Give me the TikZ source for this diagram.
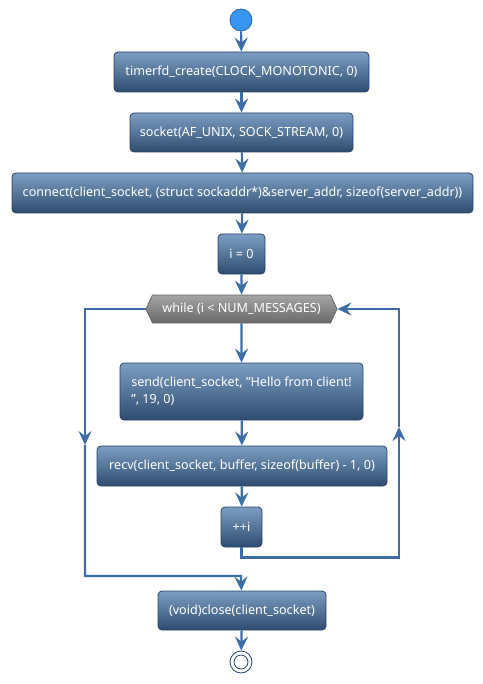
\documentclass[tikz,border=0pt]{standalone}
\usepackage{fontspec}
\setmainfont{Noto Sans}[Ligatures=NoCommon]
\usepackage{tikz}
\usetikzlibrary{arrows.meta,shapes.symbols}

\definecolor{flowblue}{RGB}{61,110,165}
\definecolor{boxtop}{RGB}{124,158,194}
\definecolor{boxbot}{RGB}{46,76,112}
\definecolor{boxedge}{RGB}{40,68,102}
\definecolor{condtop}{RGB}{165,165,165}
\definecolor{condbot}{RGB}{105,105,105}
\definecolor{startfill}{RGB}{56,150,240}

\begin{document}
\begin{tikzpicture}[x=1pt,y=-1pt,
  actbox/.style={draw=boxedge,line width=0.8pt,rounded corners=4pt,
    top color=boxtop,bottom color=boxbot,text=white,
    font=\fontsize{12.6}{17}\selectfont,inner sep=0pt},
  loopcond/.style={draw=black!60,line width=0.8pt,signal,signal to=east and west,
    signal pointer angle=130,top color=condtop,bottom color=condbot,text=white,
    font=\fontsize{12.6}{17}\selectfont,inner sep=0pt,
    minimum width=191pt,minimum height=28pt},
  flow/.style={draw=flowblue,line width=2.2pt,-{Stealth[length=14pt,width=13pt,inset=5pt]}}]
  \useasboundingbox (0,0) rectangle (482,684);
  \node[circle,fill=startfill,draw=startfill!70!black,line width=0.8pt,minimum size=22pt,inner sep=0pt] (start) at (241,20) {};
  \node[actbox,minimum width=255pt,minimum height=40pt] (tfd) at (241.5,72) {timerfd\_create(CLOCK\_MONOTONIC, 0)};
  \node[actbox,minimum width=223pt,minimum height=39pt] (sock) at (241.5,132.5) {socket(AF\_UNIX, SOCK\_STREAM, 0)};
  \node[actbox,minimum width=461pt,minimum height=40pt] (conn) at (242.5,193) {connect(client\_socket, (struct sockaddr*)\&server\_addr, sizeof(server\_addr))};
  \node[actbox,minimum width=47pt,minimum height=40pt] (init) at (241.5,254) {i = 0};
  \node[loopcond] (cond) at (241.5,309) {while (i < NUM\_MESSAGES)};
  \node[actbox,minimum width=243pt,minimum height=57pt,align=left] (send) at (241.5,391.5) {send(client\_socket, \char"22 Hello from client!\\\char"22 , 19, 0)};
  \node[actbox,minimum width=290pt,minimum height=40pt] (recv) at (242,466) {recv(client\_socket, buffer, sizeof(buffer) - 1, 0)};
  \node[actbox,minimum width=41pt,minimum height=40pt] (incr) at (241.5,527) {++i};
  \node[actbox,minimum width=168pt,minimum height=39pt] (close) at (242,610.5) {(void)close(client\_socket)};
  \node[circle,draw=boxedge,fill=white,line width=0.8pt,minimum size=22pt,inner sep=0pt] (stop) at (241,662) {};
  \node[circle,draw=boxedge,line width=0.8pt,minimum size=14pt,inner sep=0pt] at (stop) {};
  \coordinate (lmid) at (85,445);
  \coordinate (rmid) at (399,427);
  \coordinate (ljoin) at (241,576);
  \draw[flow] (start) -- (tfd);
  \draw[flow] (tfd) -- (sock);
  \draw[flow] (sock) -- (conn);
  \draw[flow] (conn) -- (init);
  \draw[flow] (init) -- (cond);
  \draw[flow] (cond) -- (send);
  \draw[flow] (send) -- (recv);
  \draw[flow] (recv) -- (incr);
  \draw[flow] (incr.south) -- ++(0,10) -| (rmid);
  \draw[flow] (rmid) |- (cond.east);
  \draw[flow] (cond.west) -| (lmid);
  \draw[flow] (lmid) |- (ljoin) -- (close);
  \draw[flow] (close) -- (stop);
\end{tikzpicture}
\end{document}
